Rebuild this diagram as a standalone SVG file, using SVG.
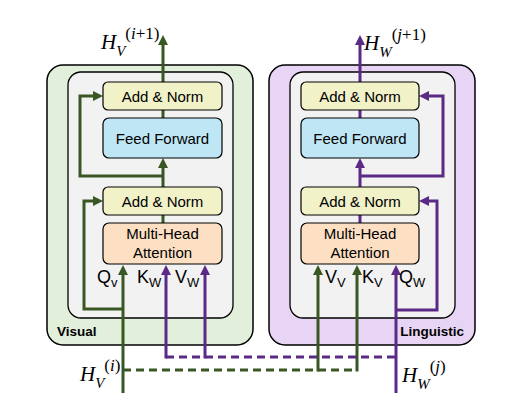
<svg xmlns="http://www.w3.org/2000/svg" width="524" height="413" viewBox="0 0 524 413">
<style>
.outer{stroke:#000;stroke-width:1.5}
.inner{fill:#f2f2f2;stroke:#000;stroke-width:1.3}
.an{fill:#f2f2c8;stroke:#000;stroke-width:1.2}
.ff{fill:#bfe6f5;stroke:#000;stroke-width:1.2}
.mh{fill:#fde0c3;stroke:#000;stroke-width:1.2}
.t{font-family:"Liberation Sans",Arial,sans-serif;font-size:15px;fill:#000;text-anchor:middle}
.lab{font-family:"Liberation Sans",Arial,sans-serif;font-size:18px;fill:#000}
.sub{font-size:13px}
.grp{font-family:"Liberation Sans",Arial,sans-serif;font-size:13.5px;font-weight:bold;fill:#000}
.m{font-family:"Liberation Serif","Times New Roman",serif;fill:#000;font-size:21px}
.it{font-style:italic}
.ms{font-size:15px;font-style:italic}
.mp{font-size:17px}
.g{fill:none;stroke:#385723;stroke-width:3}
.p{fill:none;stroke:#5b2a86;stroke-width:3}
.d{stroke-dasharray:8 5}
</style>
<defs>
<marker id="ag" viewBox="0 0 10 10" refX="1" refY="5" markerWidth="10" markerHeight="10" markerUnits="userSpaceOnUse" orient="auto"><path d="M0,0 L10,5 L0,10 z" fill="#385723"/></marker>
<marker id="ap" viewBox="0 0 10 10" refX="1" refY="5" markerWidth="10" markerHeight="10" markerUnits="userSpaceOnUse" orient="auto"><path d="M0,0 L10,5 L0,10 z" fill="#5b2a86"/></marker>
</defs>

<g id="visual">
<rect class="outer" x="47" y="65" width="206" height="280" rx="16" fill="#e2efda"/>
<rect class="inner" x="68" y="72" width="165" height="246" rx="13"/>
<text class="grp" x="57" y="336">Visual</text>
</g>
<g id="linguistic">
<rect class="outer" x="269" y="65" width="206" height="280" rx="16" fill="#e8d5f5"/>
<rect class="inner" x="290" y="72" width="165" height="246" rx="13"/>
<text class="grp" x="464" y="336" text-anchor="end">Linguistic</text>
</g>

<g id="connectors">
<path class="g" d="M163,82 V44" marker-end="url(#ag)"/>
<path class="g" d="M163,110 V118"/>
<path class="g" d="M163,187 V167" marker-end="url(#ag)"/>
<path class="g" d="M163,176 H80 V96 H94" marker-end="url(#ag)"/>
<path class="g" d="M163,215 V223"/>
<path class="g" d="M123,393 V274" marker-end="url(#ag)"/>
<path class="g" d="M123,309 H84 V201 H94" marker-end="url(#ag)"/>
<path class="g d" d="M123,370 H357"/>
<path class="g" d="M318,371.5 V274" marker-end="url(#ag)"/>
<path class="g" d="M357,371.5 V274" marker-end="url(#ag)"/>
<path class="p" d="M360,82 V44" marker-end="url(#ap)"/>
<path class="p" d="M360,110 V118"/>
<path class="p" d="M360,187 V167" marker-end="url(#ap)"/>
<path class="p" d="M360,176 H443 V96 H428" marker-end="url(#ap)"/>
<path class="p" d="M360,215 V223"/>
<path class="p" d="M396,393 V274" marker-end="url(#ap)"/>
<path class="p" d="M396,310 H437 V201 H428" marker-end="url(#ap)"/>
<path class="p d" d="M166,357 H396"/>
<path class="p" d="M166,358.5 V274" marker-end="url(#ap)"/>
<path class="p" d="M205,358.5 V274" marker-end="url(#ap)"/>
</g>

<g id="v-addnorm2"><rect class="an" x="103" y="82" width="119" height="28" rx="5"/><text class="t" x="162.5" y="101.5">Add &amp; Norm</text></g>
<g id="v-ff"><rect class="ff" x="103" y="118" width="119" height="40" rx="6"/><text class="t" x="162.5" y="143.5">Feed Forward</text></g>
<g id="v-addnorm1"><rect class="an" x="103" y="187" width="119" height="28" rx="5"/><text class="t" x="162.5" y="206.5">Add &amp; Norm</text></g>
<g id="v-mha"><rect class="mh" x="103" y="223" width="119" height="41" rx="6"/><text class="t" x="162.5" y="239">Multi-Head</text><text class="t" x="162.5" y="258">Attention</text></g>

<g id="l-addnorm2"><rect class="an" x="301" y="82" width="118" height="28" rx="5"/><text class="t" x="360" y="101.5">Add &amp; Norm</text></g>
<g id="l-ff"><rect class="ff" x="301" y="118" width="118" height="40" rx="6"/><text class="t" x="360" y="143.5">Feed Forward</text></g>
<g id="l-addnorm1"><rect class="an" x="301" y="187" width="118" height="28" rx="5"/><text class="t" x="360" y="206.5">Add &amp; Norm</text></g>
<g id="l-mha"><rect class="mh" x="301" y="223" width="118" height="41" rx="6"/><text class="t" x="360" y="239">Multi-Head</text><text class="t" x="360" y="258">Attention</text></g>

<g id="qkv-labels">
<text class="lab" x="97" y="283">Q<tspan class="sub" dy="4">v</tspan></text>
<text class="lab" x="137" y="283">K<tspan class="sub" dy="4">W</tspan></text>
<text class="lab" x="175" y="283">V<tspan class="sub" dy="4">W</tspan></text>
<text class="lab" x="325" y="283">V<tspan class="sub" dy="4">V</tspan></text>
<text class="lab" x="362" y="283">K<tspan class="sub" dy="4">V</tspan></text>
<text class="lab" x="399" y="283">Q<tspan class="sub" dy="4">W</tspan></text>
</g>

<g id="math-labels">
<text class="m" x="101" y="49"><tspan class="it">H</tspan><tspan class="ms" dy="7">V</tspan><tspan class="mp" dy="-17">(<tspan class="it">i</tspan>+1)</tspan></text>
<text class="m" x="364" y="50"><tspan class="it">H</tspan><tspan class="ms" dy="7">W</tspan><tspan class="mp" dy="-17">(<tspan class="it">j</tspan>+1)</tspan></text>
<text class="m" x="80" y="381"><tspan class="it">H</tspan><tspan class="ms" dy="7">V</tspan><tspan class="mp" dy="-17">(<tspan class="it">i</tspan>)</tspan></text>
<text class="m" x="402" y="382"><tspan class="it">H</tspan><tspan class="ms" dy="7">W</tspan><tspan class="mp" dy="-17">(<tspan class="it">j</tspan>)</tspan></text>
</g>
</svg>
